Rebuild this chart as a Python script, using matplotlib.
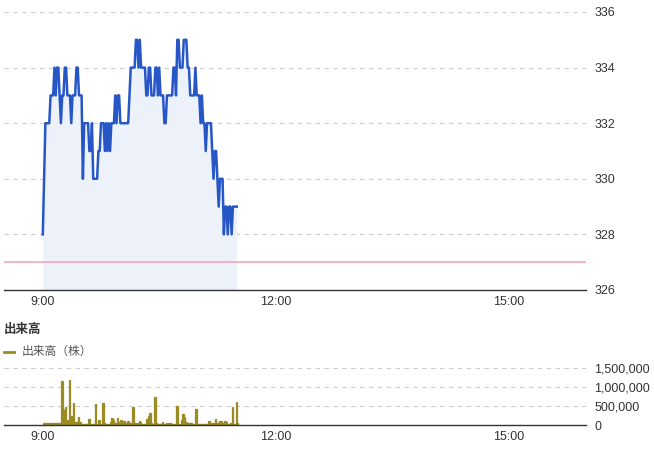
import numpy as np
import pandas as pd
import matplotlib
matplotlib.use("Agg")
import matplotlib.pyplot as plt

plt.rcParams['font.family'] = ['Liberation Sans', 'Noto Sans CJK JP', 'DejaVu Sans']

# 1-minute prices, 9:00 - 11:30
price = [328, 330, 332, 332, 332, 332, 333, 333, 333, 334,
         333, 334, 334, 333, 332, 333, 333, 334, 334, 333,
         333, 333, 332, 333, 333, 333, 334, 334, 333, 333,
         333, 330, 332, 332, 332, 332, 331, 331, 332, 330,
         330, 330, 330, 331, 331, 332, 332, 332, 331, 332,
         331, 332, 331, 332, 332, 332, 333, 332, 333, 333,
         332, 332, 332, 332, 332, 332, 332, 333, 334, 334,
         334, 334, 335, 335, 334, 335, 334, 334, 334, 334,
         333, 333, 334, 334, 333, 333, 333, 334, 334, 333,
         334, 333, 333, 333, 332, 332, 333, 333, 333, 333,
         333, 334, 334, 333, 335, 335, 334, 334, 334, 335,
         335, 335, 334, 334, 333, 333, 333, 333, 334, 333,
         333, 333, 332, 333, 332, 332, 331, 332, 332, 332,
         332, 331, 330, 331, 331, 330, 329, 330, 330, 330,
         328, 329, 329, 328, 329, 329, 328, 329, 329, 329,
         329]

# volume per minute (thousand shares)
volume_k = [60, 60, 60, 60, 60, 60, 60, 60, 60, 60,
            60, 60, 60, 60, 1160, 370, 390, 465, 130, 60,
            1180, 90, 245, 590, 90, 40, 90, 200, 90, 25,
            20, 25, 20, 25, 20, 160, 25, 20, 25, 20,
            550, 30, 20, 130, 25, 20, 590, 60, 20, 15,
            20, 15, 70, 175, 130, 45, 40, 175, 90, 70,
            130, 60, 105, 50, 40, 105, 40, 45, 40, 480,
            40, 40, 35, 40, 105, 80, 25, 20, 25, 30,
            160, 245, 307, 40, 30, 30, 730, 60, 20, 25,
            20, 25, 90, 30, 20, 60, 20, 45, 40, 15,
            20, 15, 20, 500, 30, 20, 25, 130, 280, 220,
            90, 40, 50, 45, 40, 20, 15, 20, 410, 20,
            15, 20, 15, 15, 20, 15, 20, 15, 115, 60,
            40, 45, 40, 160, 60, 50, 105, 105, 60, 50,
            105, 90, 20, 25, 30, 40, 480, 30, 20, 615,
            40]

prev_close = 327
price_ticks = [326, 328, 330, 332, 334, 336]
vol_ticks = [0, 500000, 1000000, 1500000]
vol_tick_labels = ['0', '500,000', '1,000,000', '1,500,000']
time_labels = ['9:00', '12:00', '15:00']

times = pd.date_range('2024-01-01 09:00', periods=len(price), freq='1min')
volume = np.array(volume_k) * 1000
t0 = pd.Timestamp('2024-01-01 08:30')
t1 = pd.Timestamp('2024-01-01 16:00')
tick_times = [pd.Timestamp('2024-01-01 ' + s) for s in time_labels]

fig = plt.figure(figsize=(6.54, 4.51), dpi=100)
ax = fig.add_axes([4 / 654, 161 / 451, 582 / 654, 278 / 451])
axv = fig.add_axes([4 / 654, 26 / 451, 582 / 654, 57 / 451])

grid_col = '#cccccc'
txt_col = '#333333'
vol_col = '#9a8c22'

# price panel
ax.fill_between(times, price, 326, color='#edf1fa', lw=0)
ax.plot(times, price, color='#2757c6', lw=1.8)
ax.axhline(prev_close, color='#f4a7b6', lw=1.2)
ax.set_ylim(326, 336)
ax.set_xlim(t0, t1)
ax.set_yticks(price_ticks)
ax.set_xticks(tick_times)
ax.set_xticklabels(time_labels)
ax.grid(axis='y', color=grid_col, ls=(0, (4, 4)), lw=0.8)

# volume panel
axv.bar(times, volume, width=1.3 / 1440, color=vol_col, align='edge',
        edgecolor=vol_col, lw=0.9)
axv.set_ylim(0, 1500000)
axv.set_xlim(t0, t1)
axv.set_yticks(vol_ticks)
axv.set_yticklabels(vol_tick_labels)
axv.set_xticks(tick_times)
axv.set_xticklabels(time_labels)
axv.grid(axis='y', color=grid_col, ls=(0, (4, 4)), lw=0.8)

for a in (ax, axv):
    a.set_facecolor('none')
    for s in ['top', 'left', 'right']:
        a.spines[s].set_visible(False)
    a.spines['bottom'].set_color('#333333')
    a.spines['bottom'].set_linewidth(1)
    a.yaxis.tick_right()
    a.tick_params(axis='y', length=0, pad=6, labelsize=9, labelcolor=txt_col)
    a.tick_params(axis='x', length=0, pad=4, labelsize=9, labelcolor=txt_col)
    a.set_axisbelow(True)

fig.text(4 / 654, 1 - 330 / 451, '出来高', fontsize=9, fontweight='bold',
         color=txt_col, va='center', ha='left')
fig.add_artist(plt.Line2D([4 / 654, 14 / 654], [1 - 352 / 451, 1 - 352 / 451],
                          color=vol_col, lw=2))
fig.text(22 / 654, 1 - 352 / 451, '出来高（株）', fontsize=8.5, color='#555555',
         va='center', ha='left')

fig.savefig('out.png', dpi=100)
